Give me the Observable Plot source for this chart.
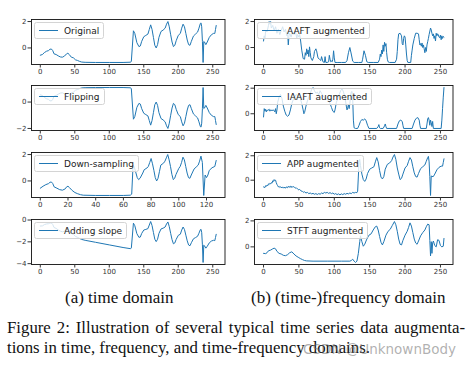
<!DOCTYPE html>
<html>
<head>
<meta charset="utf-8">
<script src="https://cdn.jsdelivr.net/npm/d3@7"></script>
<script src="https://cdn.jsdelivr.net/npm/@observablehq/plot@0.6"></script>
<style>
  html, body { margin: 0; padding: 0; background: #fff; }
  #fig { position: relative; width: 474px; height: 366px; overflow: hidden; background: #fff; }
  .panel { position: absolute; }
  .legend { position: absolute; box-sizing: border-box; height: 17px; display: flex; align-items: center;
    padding: 0 4px 0 4px; border: 1px solid #d4d4d4; border-radius: 2.5px; background: rgba(255,255,255,0.8);
    font-family: "DejaVu Sans", sans-serif; font-size: 9px; color: #222; white-space: nowrap; }
  .legend .ln { display: inline-block; width: 19px; height: 0; border-top: 1.2px solid #1f77b4; margin-right: 6px; }
  .cap { position: absolute; font-family: "Liberation Serif", "Times New Roman", serif; color: #111; white-space: nowrap; line-height: 20px; }
  .wm { position: absolute; font-family: "DejaVu Sans", sans-serif; font-size: 13.5px; color: rgba(110,110,110,0.55); white-space: nowrap; }
</style>
</head>
<body>
<div id="fig"></div>
<script>
// ---------- data (index, value) ----------
const ticks256 = [0, 50, 100, 150, 200, 250];
const ticks128 = [0, 20, 40, 60, 80, 100, 120];
const ticksPos = [0, 2];
const ticksNeg = [-2, 0];
const ticksSlope = [-4, -2, 0];

const original = [[0,-0.55],[3,-0.5],[6,-0.35],[9,-0.25],[12,-0.2],[14,-0.1],[16,-0.08],[18,-0.2],[20,-0.45],[23,-0.5],[26,-0.6],[29,-0.68],[32,-0.7],[35,-0.62],[38,-0.45],[40,-0.4],[42,-0.5],[45,-0.7],[48,-0.75],[51,-0.9],[54,-0.95],[57,-1.02],[60,-1.07],[65,-1.09],[80,-1.1],[100,-1.1],[120,-1.1],[131,-1.08],[132,-1.0],[135,1.3],[137,1.1],[140,0.4],[143,0.1],[145,0.15],[147,0.5],[150,0.85],[153,0.95],[156,1.05],[158,1.4],[160,1.75],[162,1.4],[164,0.8],[166,0.2],[168,0.0],[170,0.25],[172,0.8],[175,1.25],[178,1.35],[181,1.5],[183,1.8],[185,2.0],[187,1.6],[189,1.0],[191,0.45],[193,0.1],[195,0.2],[197,0.55],[200,0.95],[203,1.1],[205,1.5],[207,1.8],[209,1.6],[211,1.1],[213,0.6],[215,0.25],[217,0.2],[219,0.5],[222,0.9],[225,1.05],[228,1.2],[230,1.5],[232,1.85],[233,1.9],[234,1.6],[235,0.5],[236,-1.1],[237,0.5],[238,0.45],[240,0.25],[242,0.45],[245,0.8],[248,1.0],[251,1.1],[253,1.1],[254,1.4],[255,1.7]];

const flipping = [[0,0.55],[3,0.5],[6,0.35],[9,0.25],[12,0.2],[14,0.1],[16,0.08],[18,0.2],[20,0.45],[23,0.5],[26,0.6],[29,0.68],[32,0.7],[35,0.62],[38,0.45],[40,0.4],[42,0.5],[45,0.7],[48,0.75],[51,0.9],[54,0.95],[57,1.02],[60,1.07],[65,1.09],[80,1.1],[100,1.1],[120,1.1],[131,1.08],[132,1.0],[135,-1.3],[137,-1.1],[140,-0.4],[143,-0.1],[145,-0.15],[147,-0.5],[150,-0.85],[153,-0.95],[156,-1.05],[158,-1.4],[160,-1.75],[162,-1.4],[164,-0.8],[166,-0.2],[168,0.0],[170,-0.25],[172,-0.8],[175,-1.25],[178,-1.35],[181,-1.5],[183,-1.8],[185,-2.0],[187,-1.6],[189,-1.0],[191,-0.45],[193,-0.1],[195,-0.2],[197,-0.55],[200,-0.95],[203,-1.1],[205,-1.5],[207,-1.8],[209,-1.6],[211,-1.1],[213,-0.6],[215,-0.25],[217,-0.2],[219,-0.5],[222,-0.9],[225,-1.05],[228,-1.2],[230,-1.5],[232,-1.85],[233,-1.9],[234,-1.6],[235,-0.5],[236,1.1],[237,-0.5],[238,-0.45],[240,-0.25],[242,-0.45],[245,-0.8],[248,-1.0],[251,-1.1],[253,-1.1],[254,-1.4],[255,-1.7]];

const downsampling = [[0,-0.55],[2,-0.4],[4,-0.28],[6,-0.2],[7,-0.1],[8,-0.08],[9,-0.2],[10,-0.45],[12,-0.55],[14,-0.66],[16,-0.7],[18,-0.6],[19,-0.45],[20,-0.4],[21,-0.5],[23,-0.72],[25,-0.88],[27,-0.97],[29,-1.04],[31,-1.08],[40,-1.1],[50,-1.1],[60,-1.1],[65,-1.08],[66,-1.0],[67,1.25],[68,1.0],[70,0.25],[71,0.1],[72,0.2],[74,0.6],[75,0.85],[77,0.98],[78,1.1],[79,1.4],[80,1.7],[81,1.3],[82,0.8],[83,0.25],[84,0.0],[85,0.2],[86,0.7],[87,1.2],[89,1.35],[90,1.5],[91,1.75],[92,2.0],[93,1.6],[94,1.1],[95,0.5],[96,0.1],[97,0.2],[98,0.5],[100,0.95],[101,1.1],[102,1.4],[103,1.8],[104,1.6],[105,1.1],[106,0.6],[107,0.25],[108,0.2],[109,0.45],[111,0.9],[113,1.1],[114,1.2],[115,1.5],[116,1.88],[117,1.4],[118,-1.1],[119,0.45],[120,0.25],[121,0.45],[122,0.8],[124,1.0],[126,1.1],[127,1.55]];

const addingSlope = [[0,-0.55],[3,-0.54],[6,-0.42],[9,-0.36],[12,-0.34],[14,-0.27],[16,-0.27],[18,-0.41],[20,-0.69],[23,-0.77],[26,-0.91],[29,-1.02],[32,-1.08],[35,-1.03],[38,-0.9],[40,-0.87],[42,-1.0],[45,-1.23],[48,-1.32],[51,-1.5],[54,-1.59],[57,-1.69],[60,-1.78],[65,-1.86],[80,-2.04],[100,-2.28],[120,-2.52],[131,-2.63],[132,-2.56],[135,-0.29],[137,-0.52],[140,-1.25],[143,-1.59],[145,-1.56],[147,-1.23],[150,-0.92],[153,-0.86],[156,-0.79],[158,-0.46],[160,-0.14],[162,-0.51],[164,-1.14],[166,-1.76],[168,-1.98],[170,-1.76],[172,-1.23],[175,-0.82],[178,-0.75],[181,-0.64],[183,-0.36],[185,-0.18],[187,-0.61],[189,-1.23],[191,-1.8],[193,-2.18],[195,-2.1],[197,-1.77],[200,-1.41],[203,-1.3],[205,-0.92],[207,-0.64],[209,-0.87],[211,-1.39],[213,-1.91],[215,-2.29],[217,-2.36],[219,-2.08],[222,-1.72],[225,-1.61],[228,-1.49],[230,-1.21],[232,-0.89],[233,-0.85],[234,-1.16],[235,-2.27],[236,-3.89],[237,-2.3],[238,-2.36],[240,-2.58],[242,-2.41],[245,-2.09],[248,-1.93],[251,-1.86],[253,-1.89],[254,-1.6],[255,-1.31]];

const aaft = [[0,0.5],[1,0.9],[2,0.7],[3,1.3],[5,1.2],[7,1.7],[8,2.0],[9,1.8],[10,2.0],[11,1.5],[13,1.7],[15,1.3],[17,1.6],[19,1.1],[21,1.4],[23,1.0],[25,1.3],[27,1.6],[29,1.2],[31,1.4],[33,0.9],[34,1.2],[35,0.2],[36,0.9],[37,1.1],[39,0.8],[41,1.2],[43,1.0],[45,1.3],[47,0.7],[48,1.0],[50,0.8],[51,1.0],[52,0.7],[54,-0.2],[56,-0.85],[58,-0.9],[59,-0.4],[60,-0.6],[61,-0.1],[62,-0.5],[63,-0.2],[64,-0.7],[65,0.05],[66,-0.4],[67,-0.8],[69,-1.0],[71,-0.7],[72,-0.3],[74,-0.1],[75,-0.25],[77,-0.8],[79,-0.9],[81,-1.0],[82,-0.7],[84,-1.1],[86,-1.15],[87,-0.7],[88,-1.15],[90,-1.15],[92,-1.1],[93,-0.6],[94,-0.9],[95,-1.1],[96,-1.05],[97,-1.1],[98,-0.9],[99,-0.25],[100,-0.8],[101,-1.15],[104,-1.15],[110,-1.15],[116,-1.15],[118,-1.0],[120,-0.4],[122,0.0],[124,-0.5],[126,-1.05],[128,-1.15],[134,-1.15],[139,-1.15],[140,-0.9],[142,-0.25],[144,-0.6],[146,-1.1],[148,-1.15],[155,-1.15],[162,-1.15],[164,-0.9],[165,-0.5],[166,-0.7],[167,-0.2],[168,-0.5],[169,0.2],[170,-0.3],[171,0.4],[172,0.1],[173,0.3],[174,-0.4],[175,-0.9],[176,-1.1],[178,-1.15],[186,-1.15],[188,-0.9],[189,-0.3],[190,0.6],[191,1.05],[193,1.1],[195,0.9],[196,0.3],[197,0.2],[198,0.7],[199,0.9],[200,0.8],[201,0.2],[202,-0.5],[203,-1.0],[204,-1.15],[208,-1.15],[209,-0.6],[210,-0.2],[211,0.2],[213,0.7],[215,1.1],[217,1.1],[219,1.05],[220,0.6],[221,0.2],[222,0.3],[223,0.1],[224,0.35],[225,0.0],[226,0.2],[227,-0.1],[228,-0.4],[229,0.0],[230,-0.3],[231,0.2],[232,0.45],[233,0.7],[234,1.0],[236,1.5],[237,1.35],[238,1.1],[239,0.9],[240,1.05],[241,0.7],[242,0.9],[243,0.5],[244,1.1],[245,0.9],[246,1.05],[247,1.0],[248,0.8],[249,0.75],[250,0.95],[251,0.6],[252,0.9],[253,0.7],[254,0.85],[255,0.8]];

const iaaft = [[0,-0.25],[1,0.4],[2,0.2],[3,0.35],[4,0.15],[5,0.3],[6,0.25],[8,0.35],[9,0.2],[10,0.3],[12,0.25],[14,0.3],[16,0.15],[17,0.4],[18,0.0],[19,0.3],[20,0.9],[22,1.3],[24,1.5],[26,1.2],[28,0.6],[30,0.2],[32,-0.1],[34,-0.2],[36,-0.1],[38,0.3],[40,0.8],[42,1.1],[44,1.3],[46,1.5],[48,1.4],[50,1.35],[52,1.2],[54,0.8],[56,0.3],[57,0.0],[58,0.1],[60,0.6],[62,1.0],[64,1.3],[66,1.6],[68,1.9],[70,2.05],[72,1.8],[74,1.6],[76,1.7],[78,1.5],[80,1.8],[82,1.6],[84,1.4],[86,1.3],[88,1.2],[90,1.1],[92,1.0],[94,0.8],[96,0.5],[98,0.2],[100,0.1],[101,0.3],[103,0.9],[105,1.2],[107,1.5],[109,1.8],[111,1.95],[113,1.7],[115,1.3],[117,0.6],[118,0.3],[119,0.5],[120,0.7],[121,0.4],[122,0.8],[123,1.4],[124,1.7],[125,1.75],[126,1.2],[127,-0.5],[128,-1.1],[130,-1.15],[133,-1.15],[135,-0.9],[137,-0.6],[139,-0.45],[141,-0.5],[143,-0.4],[145,-0.55],[147,-0.9],[149,-1.15],[160,-1.15],[162,-1.0],[163,-0.85],[164,-1.1],[165,-1.15],[169,-1.15],[171,-0.95],[172,-0.8],[173,-1.0],[174,-1.15],[188,-1.15],[190,-0.8],[192,-0.55],[194,-0.5],[196,-0.6],[197,-0.9],[198,-1.15],[210,-1.15],[212,-0.8],[214,-0.5],[216,-0.35],[218,-0.3],[220,-0.5],[221,-0.9],[222,-1.15],[230,-1.15],[231,-0.8],[232,-0.4],[233,-0.3],[234,-0.5],[235,-0.9],[236,-0.5],[237,-0.7],[238,-1.0],[239,-0.6],[240,-1.15],[251,-1.15],[252,-0.5],[253,0.4],[254,1.3],[255,2.05]];

const app = [[0,-0.55],[2,-0.6],[3,-0.45],[4,-0.5],[5,-0.4],[6,-0.45],[7,-0.3],[8,-0.35],[9,-0.25],[10,-0.3],[11,-0.2],[12,-0.25],[13,-0.05],[14,-0.1],[15,0.05],[16,-0.05],[17,0.0],[18,-0.2],[19,-0.35],[20,-0.45],[21,-0.55],[22,-0.5],[23,-0.6],[24,-0.55],[26,-0.62],[27,-0.55],[28,-0.65],[29,-0.58],[31,-0.65],[32,-0.55],[34,-0.62],[35,-0.5],[36,-0.58],[38,-0.5],[39,-0.6],[40,-0.5],[41,-0.58],[42,-0.52],[44,-0.6],[45,-0.65],[46,-0.6],[48,-0.72],[50,-0.8],[51,-0.75],[53,-0.88],[55,-0.92],[57,-1.0],[58,-0.95],[60,-1.05],[62,-1.0],[64,-1.1],[66,-1.05],[68,-1.12],[70,-1.08],[72,-1.15],[74,-1.1],[76,-1.17],[78,-1.1],[80,-1.15],[82,-1.05],[84,-1.1],[86,-1.0],[88,-1.05],[90,-1.0],[92,-1.08],[94,-1.02],[96,-1.1],[98,-1.05],[100,-1.15],[102,-1.1],[104,-1.18],[106,-1.12],[108,-1.2],[110,-1.12],[112,-1.18],[114,-1.1],[116,-1.15],[118,-1.08],[120,-1.12],[122,-1.05],[124,-1.1],[126,-1.0],[128,-1.05],[130,-1.0],[132,-1.02],[133,-0.9],[135,1.5],[136,1.7],[137,1.2],[139,0.5],[141,0.05],[143,-0.1],[145,0.1],[147,0.55],[150,0.9],[153,1.0],[156,1.1],[158,1.5],[160,1.85],[162,1.5],[164,0.8],[166,0.25],[168,0.1],[170,0.3],[172,0.9],[175,1.3],[178,1.4],[181,1.6],[183,1.9],[185,2.1],[187,1.7],[189,1.0],[191,0.5],[193,0.05],[195,0.15],[197,0.5],[200,1.0],[203,1.2],[205,1.55],[207,1.85],[209,1.65],[211,1.1],[213,0.6],[215,0.3],[217,0.25],[219,0.55],[222,0.95],[225,1.1],[228,1.25],[230,1.55],[232,1.85],[233,1.95],[234,1.5],[235,0.3],[236,-1.25],[237,0.35],[238,0.3],[240,0.3],[242,0.5],[245,0.85],[248,1.05],[251,1.15],[253,1.15],[254,1.45],[255,1.75]];

const stft = [[0,-0.5],[3,-0.52],[5,-0.45],[7,-0.3],[10,-0.25],[13,-0.15],[15,-0.1],[17,-0.15],[19,-0.35],[22,-0.5],[25,-0.55],[28,-0.65],[31,-0.68],[34,-0.6],[37,-0.45],[40,-0.38],[43,-0.55],[46,-0.7],[49,-0.8],[52,-0.9],[55,-0.98],[58,-1.05],[61,-1.08],[70,-1.1],[90,-1.1],[110,-1.1],[122,-1.1],[124,-1.05],[126,-0.95],[128,-1.1],[130,-1.2],[132,-1.1],[134,-0.5],[136,0.4],[137,0.85],[139,0.4],[141,0.05],[143,0.2],[146,0.6],[149,0.9],[152,1.0],[155,1.3],[158,1.55],[160,1.6],[162,1.3],[164,0.8],[166,0.35],[168,0.15],[170,0.4],[173,0.9],[176,1.2],[179,1.35],[182,1.65],[185,1.95],[187,1.7],[189,1.2],[191,0.6],[193,0.2],[195,0.15],[197,0.5],[200,0.9],[203,1.2],[205,1.5],[207,1.85],[209,1.6],[211,1.1],[213,0.6],[215,0.3],[217,0.2],[219,0.45],[222,0.85],[225,1.1],[228,1.3],[230,1.55],[232,1.75],[234,1.7],[235,0.5],[236,-0.7],[237,0.4],[238,-0.5],[239,0.3],[240,0.45],[242,0.1],[244,0.0],[246,0.55],[248,0.5],[250,0.1],[252,0.0],[254,0.05],[255,0.65]];

const labels = ["Original", "Flipping", "Down-sampling", "Adding slope",
                "AAFT augmented", "IAAFT augmented", "APP augmented", "STFT augmented"];
const subcaptions = ["(a) time domain", "(b) (time-)frequency domain"];
const captionLines = ["Figure 2: Illustration of several typical time series data augmenta-",
                      "tions in time, frequency, and time-frequency domains."];
const watermark = "CSDN @UnknownBody";

// ---------- layout ----------
const fig = document.getElementById("fig");
const cols = [{left: 0, mL: 31, mR: 12.5}, {left: 237, mL: 17, mR: 21.5}];
const rowTops = [14, 80, 147, 214];
const MT = 5, MB = 16, H = 66, W = 237;
const fmt = d => (d < 0 ? "\u2212" + Math.abs(d) : String(d));

const panels = [
  {data: original, label: labels[0], col: 0, row: 0, n: 256, xt: ticks256, yt: ticksPos},
  {data: flipping, label: labels[1], col: 0, row: 1, n: 256, xt: ticks256, yt: ticksNeg},
  {data: downsampling, label: labels[2], col: 0, row: 2, n: 128, xt: ticks128, yt: ticksPos},
  {data: addingSlope, label: labels[3], col: 0, row: 3, n: 256, xt: ticks256, yt: ticksSlope},
  {data: aaft, label: labels[4], col: 1, row: 0, n: 256, xt: ticks256, yt: ticksPos},
  {data: iaaft, label: labels[5], col: 1, row: 1, n: 256, xt: ticks256, yt: ticksPos},
  {data: app, label: labels[6], col: 1, row: 2, n: 256, xt: ticks256, yt: ticksPos},
  {data: stft, label: labels[7], col: 1, row: 3, n: 256, xt: ticks256, yt: ticksPos},
];

for (const p of panels) {
  const c = cols[p.col];
  const top = rowTops[p.row];
  const xmax = p.n - 1, xm = xmax * 0.05;
  const [y0, y1] = d3.extent(p.data, d => d[1]);
  const ym = (y1 - y0) * 0.05;
  const chart = Plot.plot({
    width: W, height: H,
    marginLeft: c.mL, marginRight: c.mR, marginTop: MT, marginBottom: MB,
    style: {fontFamily: "DejaVu Sans, sans-serif", fontSize: "7px", color: "#333", background: "transparent", overflow: "visible"},
    x: {domain: [-xm, xmax + xm]},
    y: {domain: [y0 - ym, y1 + ym]},
    marks: [
      Plot.line(p.data, {x: d => d[0], y: d => d[1], stroke: "#1f77b4", strokeWidth: 1}),
      Plot.frame({stroke: "#111", strokeWidth: 0.9}),
      Plot.axisX({ticks: p.xt, tickSize: 3.5, tickPadding: 1.5, fontSize: 7, label: null, tickFormat: fmt}),
      Plot.axisY({ticks: p.yt, tickSize: 3.5, tickPadding: 1.5, fontSize: 7, label: null, tickFormat: fmt}),
    ]
  });
  chart.classList.add("panel");
  chart.style.left = c.left + "px";
  chart.style.top = top + "px";
  chart.style.position = "absolute";
  fig.appendChild(chart);

  const lg = document.createElement("div");
  lg.className = "legend";
  lg.style.left = (c.left + c.mL + 3) + "px";
  lg.style.top = (top + MT + 3) + "px";
  lg.innerHTML = '<span class="ln"></span><span></span>';
  lg.lastChild.textContent = p.label;
  fig.appendChild(lg);
}

// ---------- captions ----------
function addText(cls, text, css) {
  const el = document.createElement("div");
  el.className = cls;
  el.textContent = text;
  Object.assign(el.style, css);
  fig.appendChild(el);
  return el;
}
const sa = addText("cap", subcaptions[0], {fontSize: "17px", top: "288px"});
sa.style.left = (119.5 - sa.offsetWidth / 2) + "px";
const sb = addText("cap", subcaptions[1], {fontSize: "17px", top: "288px"});
sb.style.left = (348 - sb.offsetWidth / 2) + "px";
const l1 = addText("cap", captionLines[0], {fontSize: "16.8px", top: "318px", left: "7px", width: "458px",
  textAlign: "justify", textAlignLast: "justify", whiteSpace: "normal"});
addText("cap", captionLines[1], {fontSize: "16.8px", top: "338px", left: "7px"});
addText("wm", watermark, {left: "303px", top: "341px"});
</script>
</body>
</html>
